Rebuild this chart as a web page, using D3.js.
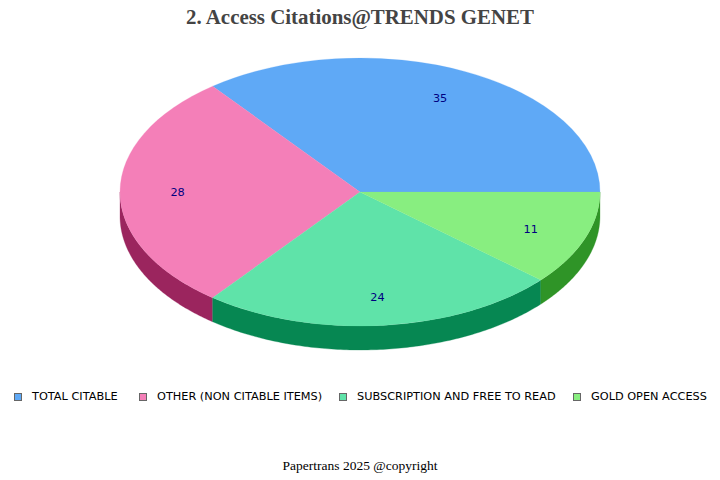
<!DOCTYPE html>
<html>
<head>
<meta charset="utf-8">
<script src="https://cdn.jsdelivr.net/npm/d3@7"></script>
<style>
   html, body { margin: 0; padding: 0; background: #fff; }
   svg { display: block; }
</style>
</head>
<body>
<svg id="chart" width="720" height="480"></svg>
<script>
var categories = ["TOTAL CITABLE", "OTHER (NON CITABLE ITEMS)", "SUBSCRIPTION AND FREE TO READ", "GOLD OPEN ACCESS"];
var values = [35, 28, 24, 11];
var topColors = ["#5fa9f6", "#f47fb8", "#5fe3a9", "#88ee80"];
var sideColors = ["#1f6ec0", "#9b255e", "#068752", "#2f9427"];
var legendX = [14, 139, 339, 573];

var width = 720, height = 480;
var cx = 360, cy = 192, rx = 240, ry = 134, depth = 24;
var svg = d3.select("#chart");

//Title
svg.append("text")
   .attr("x", width / 2).attr("y", 24)
   .attr("text-anchor", "middle")
   .attr("font-family", "'Liberation Serif'")
   .attr("font-weight", "bold")
   .attr("font-size", 20.9)
   .attr("fill", "#444")
   .text("2. Access Citations@TRENDS GENET");

//Counter clockwise from 3 o'clock
var pie = d3.pie().sort(null).startAngle(Math.PI / 2).endAngle(Math.PI / 2 - 2 * Math.PI);

//The reference tilts its angles a little when it projects the disc
function tilt(a){
   return a - 0.0125 * Math.sin(2 * (Math.PI / 2 - a));
}
var slices = pie(values).map(function(d){
   return {data: d.data, startAngle: tilt(d.startAngle), endAngle: tilt(d.endAngle)};
});

var arc = d3.arc().innerRadius(0).outerRadius(rx);
var squash = "translate(" + cx + "," + cy + ") scale(1," + (ry / rx) + ")";

var wall = d3.area()
   .x(function(a){ return cx + rx * Math.sin(a); })
   .y0(function(a){ return cy - ry * Math.cos(a); })
   .y1(function(a){ return cy - ry * Math.cos(a) + depth; });

//Only the front half of the disc shows a wall
function frontAngles(d){
   var lo = Math.max(d.endAngle, -3 * Math.PI / 2);
   var hi = Math.min(d.startAngle, -Math.PI / 2);
   if(hi <= lo) return [];
   return d3.range(0, 121).map(function(i){ return lo + (hi - lo) * i / 120; });
}

svg.selectAll("path.wall")
   .data(slices)
   .enter()
   .append("path")
   .attr("class", "wall")
   .attr("fill", function(d, i){ return sideColors[i]; })
   .attr("stroke", function(d, i){ return sideColors[i]; })
   .attr("stroke-width", 0.3)
   .attr("d", function(d){ return wall(frontAngles(d)); });

svg.selectAll("path.top")
   .data(slices)
   .enter()
   .append("path")
   .attr("class", "top")
   .attr("transform", squash)
   .attr("fill", function(d, i){ return topColors[i]; })
   .attr("stroke", function(d, i){ return topColors[i]; })
   .attr("stroke-width", 0.3)
   .attr("d", arc);

//Value labels
var labelRx = 0.76, labelRy = 0.785;
svg.selectAll("text.value")
   .data(slices)
   .enter()
   .append("text")
   .attr("class", "value")
   .attr("x", function(d){ return cx + rx * labelRx * Math.sin((d.startAngle + d.endAngle) / 2); })
   .attr("y", function(d){ return cy - ry * labelRy * Math.cos((d.startAngle + d.endAngle) / 2) + 4; })
   .attr("text-anchor", "middle")
   .attr("font-family", "'DejaVu Sans'")
   .attr("font-size", 11.3)
   .attr("fill", "#000080")
   .text(function(d){ return d.data; });

//Legend
var legend = svg.selectAll("g.legend")
   .data(categories)
   .enter()
   .append("g")
   .attr("class", "legend")
   .attr("transform", function(d, i){ return "translate(" + legendX[i] + ",393)"; });

legend.append("rect")
   .attr("x", 0.5).attr("y", 0.5)
   .attr("width", 7).attr("height", 7)
   .attr("fill", function(d, i){ return topColors[i]; })
   .attr("stroke", "#666");

legend.append("text")
   .attr("x", 18).attr("y", 7)
   .attr("font-family", "'DejaVu Sans'")
   .attr("font-size", 11.3)
   .attr("fill", "#000")
   .text(function(d){ return d; });

//Footer
svg.append("text")
   .attr("x", width / 2).attr("y", 470)
   .attr("text-anchor", "middle")
   .attr("font-family", "'Liberation Serif'")
   .attr("font-size", 13.5)
   .attr("fill", "#000")
   .text("Papertrans 2025 @copyright");
</script>
</body>
</html>
